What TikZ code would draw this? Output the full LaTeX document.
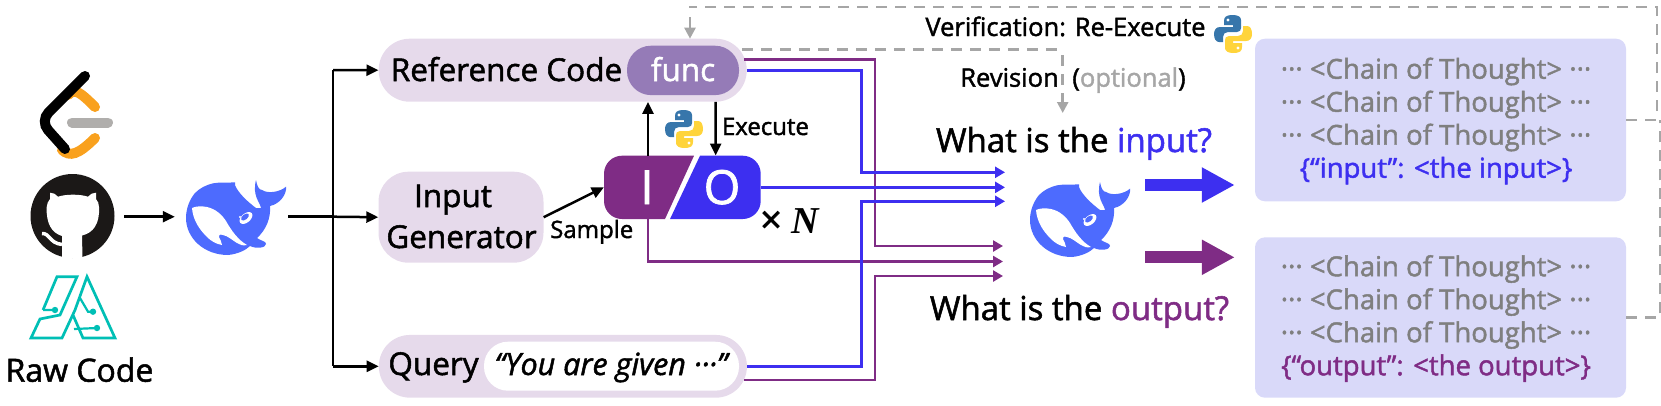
\documentclass[tikz,border=0pt]{standalone}
\usepackage{fontspec}
\setmainfont{Open Sans}[FakeBold=1.6]
\newfontfamily\nfont{Liberation Serif}
\usetikzlibrary{arrows.meta}
\definecolor{pillbg}{HTML}{E6DAEB}
\definecolor{funcbg}{HTML}{957BB7}
\definecolor{thinkbg}{HTML}{D9D9F9}
\definecolor{inblue}{HTML}{3D2FF0}
\definecolor{outpurple}{HTML}{7F2C85}
\definecolor{dashgray}{HTML}{A6A6A6}
\definecolor{thinkgray}{HTML}{7F7F7F}
\definecolor{whaleblue}{HTML}{4D6BFE}
\definecolor{pyblue}{HTML}{3776AB}
\definecolor{pyyellow}{HTML}{FFD43B}
\definecolor{lcorange}{HTML}{F9A11E}
\definecolor{lcgray}{HTML}{B0AEAC}
\definecolor{ghblack}{HTML}{1B1817}
\definecolor{teallogo}{HTML}{00BFB5}
\tikzstyle{pill} = [rectangle, inner sep=0pt, fill=pillbg]
\tikzstyle{spot} = [rectangle, inner sep=0pt]
\tikzstyle{thinkbox} = [rectangle, inner sep=0pt, rounded corners=10pt, fill=thinkbg, minimum width=371pt]
\tikzstyle{txt} = [inner sep=0pt, anchor=base, font=\fontsize{31.5}{36}\selectfont]
\tikzstyle{small} = [inner sep=0pt, anchor=base, font=\fontsize{24}{28}\selectfont]
\tikzstyle{think} = [inner sep=0pt, align=center, text=thinkgray, font=\fontsize{27.5}{33}\selectfont]
\tikzstyle{arrow} = [line width=2.5pt,-{Triangle[length=12pt,width=11pt]}]
\tikzstyle{wire} = [line width=2.7pt,-{Triangle[length=10pt,width=11pt]}]
\tikzstyle{redo} = [line width=2.5pt, draw=dashgray, dash pattern=on 11pt off 8pt]
\tikzstyle{bigarrow} = [line width=12pt,-{Triangle[length=33pt,width=33pt]}]
\newcommand{\dswhale}[2]{%
  \begin{scope}[shift={(#1,#2)}]
    \fill[whaleblue] (49,2.3) -- (49,5) .. controls (52,13) and (62,22) .. (70,28) -- (75,28)
      .. controls (74,22) and (66,16) .. (70,0) .. controls (71,6) and (73,10) .. (76,10)
      .. controls (82,14) and (94,12) .. (100,6.7) .. controls (101,14) and (94,24) .. (84,26)
      .. controls (85,38) and (80,50) .. (71,58) .. controls (75,61) and (80,61) .. (80,64)
      .. controls (80,68) and (70,69) .. (64,66) .. controls (60,70) and (52,74) .. (42,75)
      .. controls (18,75) and (0,58) .. (0,38) .. controls (0,28) and (4,19) .. (9,13)
      .. controls (14,8) and (20,5) .. (27,3.3) .. controls (34,2) and (42,3) .. (49,2.3) -- cycle;
    \fill[white] (6,28) .. controls (10,26) and (16,26) .. (21,27) .. controls (30,29) and (36,35) .. (40,41)
      .. controls (45,50) and (52,60) .. (61,65) .. controls (57,66) and (54,65) .. (51,63)
      .. controls (46,60) and (42,56) .. (37,55) .. controls (34,54) and (32,55) .. (33,57)
      .. controls (34,60) and (36,62) .. (36,65) .. controls (30,64) and (25,61) .. (21,57)
      .. controls (13,49) and (7,40) .. (6,28) -- cycle;
    \fill[white, rotate around={40:(60,38)}] (60,38) ellipse (7.5 and 4.5);
    \fill[whaleblue, rotate around={40:(59,37)}] (59,37) ellipse (4.6 and 2.6);
    \fill[white] (54,37) circle (1.2);
  \end{scope}}
\newcommand{\pysnake}{%
  (19,0) .. controls (12,0) and (10,2) .. (10,6) -- (10,10) -- (19,10) -- (19,12) -- (6,12)
  .. controls (2,12) and (0,15) .. (0,19) .. controls (0,24) and (2,27) .. (5,27) -- (9,27) -- (9,22)
  .. controls (9,19) and (11,17) .. (14,17) -- (23,17) .. controls (26,17) and (27,15) .. (27,13)
  -- (27,5) .. controls (27,2) and (24,0) .. (19,0) -- cycle}
\newcommand{\pylogo}[2]{%
  \begin{scope}[shift={(#1,#2)}]
    \fill[pyblue] \pysnake;
    \fill[white] (14,5) circle (1.6);
    \begin{scope}[rotate around={180:(19,19)}]
      \fill[pyyellow] \pysnake;
      \fill[white] (14,5) circle (1.6);
    \end{scope}
  \end{scope}}
\begin{document}
\begin{tikzpicture}[x=1pt,y=-1pt]
    \useasboundingbox (0,0) rectangle (1661,405);

    % raw code logos
    \draw[lcorange, line width=10pt, line cap=round] (68,95) .. controls (75,88) and (80,92) .. (95,107);
    \draw[lcorange, line width=10pt, line cap=round] (62,150) .. controls (70,157) and (78,155) .. (95,138);
    \draw[black, line width=10pt, line cap=round, rounded corners=12pt] (85,76) -- (40,121) -- (65,149);
    \draw[lcgray, line width=10pt, line cap=round] (72,122.5) -- (108,122.5);
    \fill[ghblack] (72.5,216) circle (42);
    \fill[white] (62,258) -- (62,236) .. controls (52,233) and (46,224) .. (46.7,207)
      .. controls (47,204) and (48,201) .. (50,199) -- (50,192.7) .. controls (53,192.7) and (56,194) .. (58,196.7)
      .. controls (66,194) and (80,194) .. (88,196.7) .. controls (90,194) and (93,192.7) .. (96,192.7) -- (96,199)
      .. controls (98,201) and (99,204) .. (99,207) .. controls (100,224) and (93,233) .. (82,235.5) -- (82.5,258) -- cycle;
    \draw[white, line width=3.5pt] (42,233.5) .. controls (50,233) and (49,243) .. (62,244.5);
    \draw[teallogo, line width=2.7pt] (43,310) -- (57,276.7) -- (77,276.7) -- (60,315) -- (40,319) -- (31,338)
      -- (62,338) -- (75,310) -- (87,276.7) -- (115,338) -- (83,338) -- (73,315);
    \draw[teallogo, line width=2.2pt] (43,310) -- (55,310) (80,298) -- (88,311.7) -- (93,311.7) (74,329) -- (97,328);
    \fill[teallogo] (55,310) circle (3.2) (93,311.7) circle (3.2) (97,328) circle (3.2);
    \node (rawcode) [txt, font=\fontsize{32}{36}\selectfont] at (79.5,381.7) {Raw Code};
    \node (ghlogo) [spot, minimum width=103pt, minimum height=84pt] at (72.5,216.7) {};

    \dswhale{186}{180}
    \node (whaleleft) [spot, minimum width=113pt, minimum height=76pt] at (231.5,216.7) {};
    \coordinate (trunktop) at (333,70);
    \coordinate (trunkbot) at (333,366.3);
    \coordinate (trunkmid) at (333,216.7);

    % three sources
    \node (refpill) [pill, rounded corners=31pt, minimum width=368pt, minimum height=63pt] at (562.7,70.2) {};
    \node (funcpill) [spot, rounded corners=24pt, fill=funcbg, minimum width=112pt, minimum height=49.4pt] at (683,70.4) {};
    \node (funclabel) [txt, text=white] at (683,81) {func};
    \node (reflabel) [txt] at (506.5,81) {Reference Code};
    \node (genpill) [pill, rounded corners=30pt, minimum width=165pt, minimum height=91pt] at (461,217.2) {};
    \node (genlabela) [txt] at (453,207) {Input};
    \node (genlabelb) [txt] at (461.5,248) {Generator};
    \node (querypill) [pill, rounded corners=31pt, minimum width=368pt, minimum height=62.7pt] at (562.9,366.3) {};
    \node (querytext) [spot, rounded corners=24pt, fill=white, minimum width=255pt, minimum height=49pt] at (611.5,366.2) {};
    \node (querylabel) [txt] at (433.5,375) {Query};
    \node (quoted) [txt, font=\fontsize{30.5}{34}\selectfont\itshape] at (611,375) {“You are given ···”};

    % input output box
    \node (iobox) [spot, minimum width=156.7pt, minimum height=63.3pt] at (682.35,187.35) {};
    \fill[outpurple] (694,155.7) [rounded corners=18pt] -- (604,155.7) -- (604,219) [sharp corners] -- (665,219) -- cycle;
    \fill[inblue] (700,155.7) [rounded corners=18pt] -- (760.7,155.7) -- (760.7,219) [sharp corners] -- (670,219) -- cycle;
    \node (ioin) [txt, text=white, font=\fontsize{47}{50}\selectfont] at (647,204) {I};
    \node (ioout) [txt, text=white, font=\fontsize{47}{50}\selectfont] at (722,204) {O};
    \pylogo{665}{110}
    \node (execlabel) [small, anchor=base west] at (721.7,135) {Execute};
    \node (samplelabel) [small, anchor=base west] at (550,238) {Sample};
    \node (timeslabel) [txt, anchor=base west, font=\fontsize{38}{40}\selectfont] at (760,233) {× {\nfont\bfseries\itshape N}};

    % black arrows
    \draw [arrow] (ghlogo.east) -- (whaleleft.west);
    \draw [line width=2.5pt] (whaleleft.east) -- (trunkmid);
    \draw [line width=2.5pt] (trunktop) -- (trunkbot);
    \draw [arrow] (trunktop) -- (refpill.west);
    \draw [arrow] (trunkmid) -- (genpill.west);
    \draw [arrow] (trunkbot) -- (querypill.west);
    \draw [arrow] (genpill.east) -- (iobox.west);
    \draw [arrow] ([xshift=-34.35pt]iobox.north) -- ([xshift=85.3pt]refpill.south);
    \draw [arrow] ([xshift=153pt]refpill.south) -- ([xshift=33.35pt]iobox.north);

    % wires into the model
    \coordinate (ina) at (1005,172.3);
    \coordinate (inb) at (1005,187.35);
    \coordinate (inc) at (1005,201.3);
    \coordinate (outa) at (1003,246);
    \coordinate (outb) at (1003,261.5);
    \coordinate (outc) at (1003,276);
    \draw [wire, outpurple] ([shift={(-3pt,10.9pt)}]refpill.east) -- ++(131,0) |- (outa);
    \draw [wire, outpurple] ([xshift=-34.35pt]iobox.south) |- (outb);
    \draw [wire, outpurple] ([shift={(-3pt,-13.7pt)}]querypill.east) -- ++(131,0) |- (outc);
    \draw [wire, inblue] (refpill.east) -- ++(114.3,0) |- (ina);
    \draw [wire, inblue] (iobox.east) -- (inb);
    \draw [wire, inblue] (querypill.east) -- ++(114.3,0) |- (inc);
    \dswhale{1030}{182}
    \node (whaleright) [spot, minimum width=80pt, minimum height=76pt] at (1105,219) {};

    \node (askin) [txt, font=\fontsize{33}{36}\selectfont] at (1074,152) {What is the \textcolor{inblue}{input?}};
    \node (askout) [txt, font=\fontsize{33}{36}\selectfont] at (1079.5,320) {What is the \textcolor{outpurple}{output?}};
    \node (verify) [txt, font=\fontsize{25.5}{32}\selectfont] at (1065.5,36) {Verification: Re-Execute};
    \pylogo{1214}{15}
    \node (revise) [txt, font=\fontsize{25.5}{32}\selectfont] at (1009.5,86.7) {Revision};
    \node (optional) [txt, font=\fontsize{25.5}{32}\selectfont] at (1129,86.7) {(\textcolor{dashgray}{optional})};

    % chain of thought boxes
    \node (boxin) [thinkbox, minimum height=162.6pt] at (1440.5,120) {};
    \node (boxout) [thinkbox, minimum height=160.4pt] at (1440.5,317.5) {};
    \node (thinkin) [think] at (1436,121) {··· <Chain of Thought> ···\\··· <Chain of Thought> ···\\··· <Chain of Thought> ···\\\textcolor{inblue}{\{“input”: <the input>\}}};
    \node (thinkout) [think] at (1436,318.5) {··· <Chain of Thought> ···\\··· <Chain of Thought> ···\\··· <Chain of Thought> ···\\\textcolor{outpurple}{\{“output”: <the output>\}}};
    \draw [bigarrow, inblue] (whaleright.east |- 0,185) ++(0,0) -- ++(89.6,0);
    \draw [bigarrow, outpurple] (whaleright.east |- 0,257.3) ++(0,0) -- ++(89.6,0);

    % gray dashed feedback
    \coordinate (sideturn) at (1660,120);
    \coordinate (topright) at (1657,7);
    \coordinate (topleft) at (689,7);
    \coordinate (revend) at (1062.7,113);
    \draw [redo] (boxin.east) -- (sideturn);
    \draw [redo] (boxout.east) -| (sideturn);
    \draw [redo] (1657,111) -- (topright) -- (topleft);
    \draw [redo, -{Triangle[length=11pt,width=11pt]}] (690,17) -- (690,38.7);
    \draw [redo] ([shift={(-5pt,20.9pt)}]refpill.east) -- (1059,49.3);
    \draw [redo, -{Triangle[length=11pt,width=11pt]}] (1062.7,55) -- (revend);
\end{tikzpicture}
\end{document}
